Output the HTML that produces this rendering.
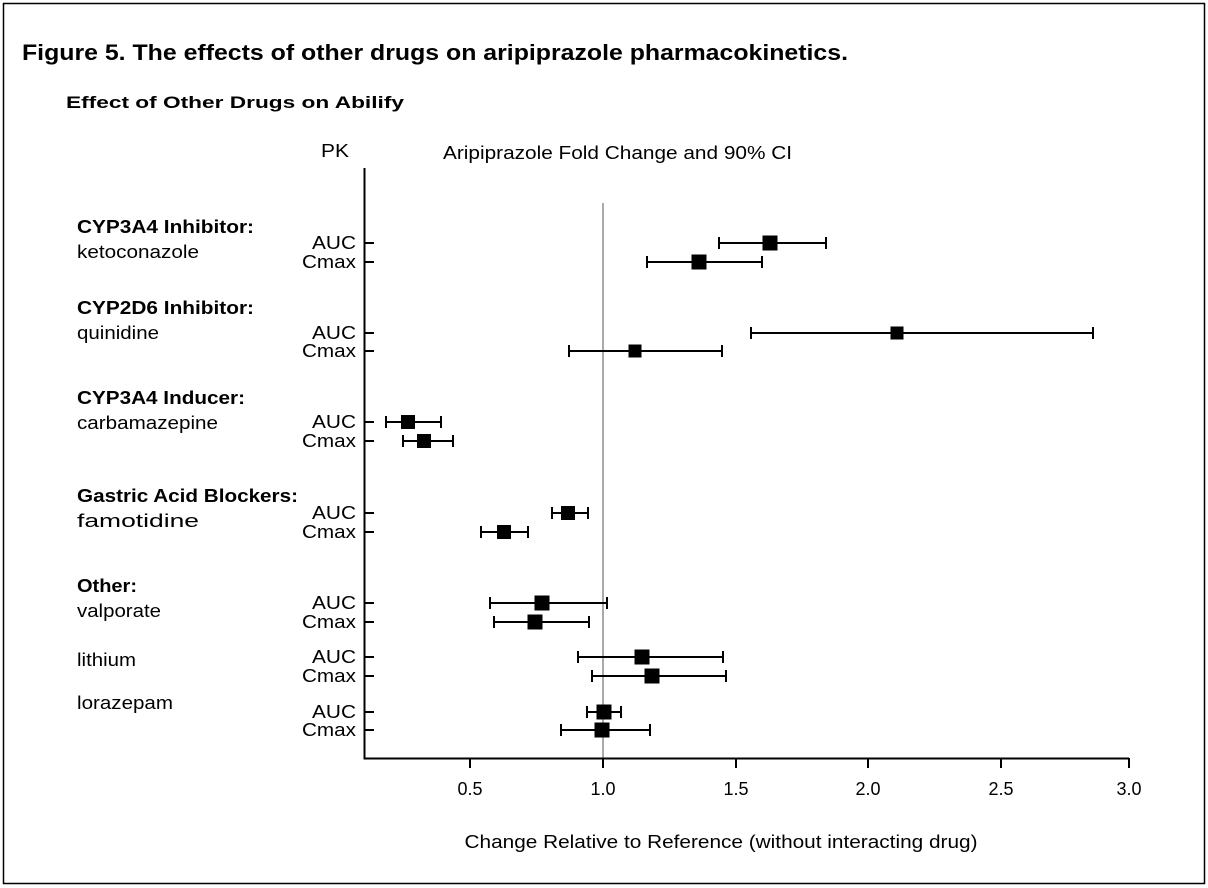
<!DOCTYPE html>
<html><head><style>body{margin:0;background:#fff}svg{display:block}text{font-family:"Liberation Sans",Arial,sans-serif;fill:#000}</style></head>
<body>
<svg width="1208" height="888" viewBox="0 0 1208 888" xmlns="http://www.w3.org/2000/svg">
<rect x="3.5" y="3.5" width="1201" height="880" fill="#fff" stroke="#000" stroke-width="1.5"/>
<text x="22" y="60" font-size="22" font-weight="bold" textLength="826" lengthAdjust="spacingAndGlyphs">Figure 5. The effects of other drugs on aripiprazole pharmacokinetics.</text>
<text x="66" y="108" font-size="17" font-weight="bold" textLength="338" lengthAdjust="spacingAndGlyphs">Effect of Other Drugs on Abilify</text>
<text x="321" y="157" font-size="18" textLength="28" lengthAdjust="spacingAndGlyphs">PK</text>
<text x="443" y="159" font-size="18" textLength="349" lengthAdjust="spacingAndGlyphs">Aripiprazole Fold Change and 90% CI</text>
<line x1="603" y1="203" x2="603" y2="758" stroke="#aaa" stroke-width="2"/>
<path d="M364.5 168V758.5H1129" fill="none" stroke="#000" stroke-width="2"/>
<g stroke="#000" stroke-width="2">
<line x1="470" y1="758" x2="470" y2="768"/><line x1="603" y1="758" x2="603" y2="768"/><line x1="736" y1="758" x2="736" y2="768"/><line x1="868" y1="758" x2="868" y2="768"/><line x1="1001" y1="758" x2="1001" y2="768"/><line x1="1129" y1="758" x2="1129" y2="768"/>
</g>
<g font-size="18" text-anchor="middle">
<text x="470" y="795">0.5</text><text x="603" y="795">1.0</text><text x="736" y="795">1.5</text><text x="868" y="795">2.0</text><text x="1001" y="795">2.5</text><text x="1129" y="795">3.0</text>
<text x="721" y="848" textLength="513" lengthAdjust="spacingAndGlyphs">Change Relative to Reference (without interacting drug)</text>
</g>
<g font-size="18">
<text x="77" y="233" font-weight="bold" textLength="177" lengthAdjust="spacingAndGlyphs">CYP3A4 Inhibitor:</text><text x="77" y="258" textLength="122" lengthAdjust="spacingAndGlyphs">ketoconazole</text>
<text x="77" y="314" font-weight="bold" textLength="177" lengthAdjust="spacingAndGlyphs">CYP2D6 Inhibitor:</text><text x="77" y="339" textLength="82" lengthAdjust="spacingAndGlyphs">quinidine</text>
<text x="77" y="404" font-weight="bold" textLength="168" lengthAdjust="spacingAndGlyphs">CYP3A4 Inducer:</text><text x="77" y="429" textLength="141" lengthAdjust="spacingAndGlyphs">carbamazepine</text>
<text x="77" y="502" font-weight="bold" textLength="221" lengthAdjust="spacingAndGlyphs">Gastric Acid Blockers:</text><text x="77" y="527" textLength="122" lengthAdjust="spacingAndGlyphs">famotidine</text>
<text x="77" y="592" font-weight="bold" textLength="60" lengthAdjust="spacingAndGlyphs">Other:</text><text x="77" y="617" textLength="84" lengthAdjust="spacingAndGlyphs">valporate</text>
<text x="77" y="666" textLength="59" lengthAdjust="spacingAndGlyphs">lithium</text>
<text x="77" y="709" textLength="96" lengthAdjust="spacingAndGlyphs">lorazepam</text>
</g>
<g font-size="18" text-anchor="end" id="rows"></g>
<g id="bars" stroke="#000" stroke-width="2"></g>
<script>
var d=[[243,719,826,770,15],[262,647,762,699,15],[333,751,1093,897,13],[351,569,722,635,13],[422,386,441,408,14],[441,403,453,424,14],[513,552,588,568,14],[532,481,528,504,14],[603,490,607,542,15],[622,494,589,535,15],[657,578,723,642,15],[676,592,726,652,15],[712,587,621,604,15],[730,561,650,602,15]];
var ns="http://www.w3.org/2000/svg",R=document.getElementById('rows'),B=document.getElementById('bars');
function el(t,a,p){var e=document.createElementNS(ns,t);for(var k in a)e.setAttribute(k,a[k]);p.appendChild(e);return e;}
d.forEach(function(r,i){var y=r[0];
var t=el('text',{x:356,y:y+6,textLength:i%2?54:44,lengthAdjust:'spacingAndGlyphs'},R);t.textContent=i%2?'Cmax':'AUC';
el('line',{x1:364,y1:y,x2:374,y2:y},B);
el('line',{x1:r[1],y1:y,x2:r[2],y2:y},B);
el('line',{x1:r[1],y1:y-6,x2:r[1],y2:y+6},B);
el('line',{x1:r[2],y1:y-6,x2:r[2],y2:y+6},B);
var s=r[4];el('rect',{x:r[3]-s/2,y:y-s/2,width:s,height:s,fill:'#000',stroke:'none'},B);});
</script>
</svg>
</body></html>
